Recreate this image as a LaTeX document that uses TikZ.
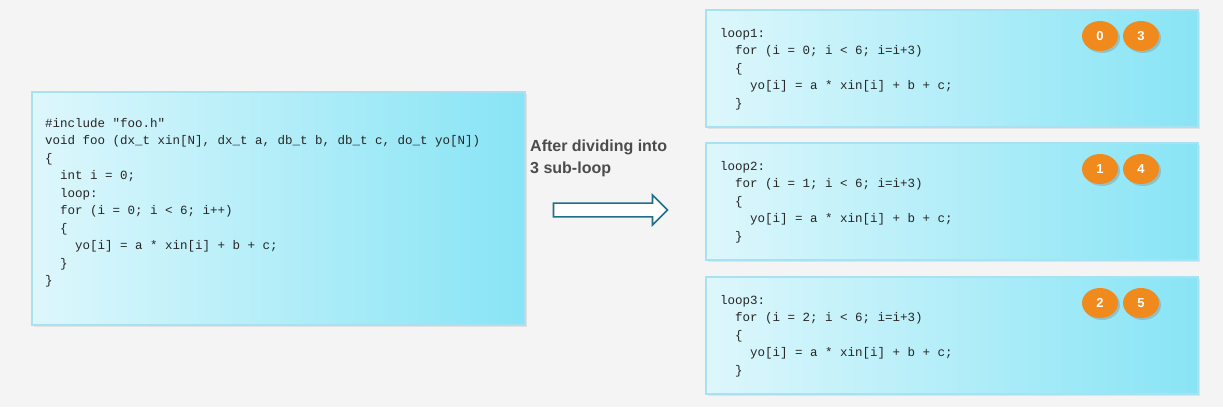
\documentclass[tikz,border=0pt]{standalone}
\usepackage{fontspec}
\setmonofont{Liberation Mono}
\setsansfont{Liberation Sans}
\usetikzlibrary{shadows,shapes.arrows,shapes.geometric}
\definecolor{bg}{HTML}{F4F4F4}
\definecolor{cl}{HTML}{DDF7FC}
\definecolor{cr}{HTML}{88E4F5}
\definecolor{bd}{HTML}{A6E2F2}
\definecolor{org}{HTML}{F08A1C}
\definecolor{arr}{HTML}{1E6E8C}
\tikzset{
 codebox/.style={draw=bd,line width=1.5pt,left color=cl,right color=cr,drop shadow={opacity=0.15}},
 code/.style={anchor=north west,align=left,font=\ttfamily\fontsize{12.5}{17.5}\selectfont,text=black!85,inner sep=0},
 badge/.style={ellipse,minimum width=36,minimum height=30,inner sep=0,fill=org,text=white,font=\sffamily\bfseries\fontsize{13}{13}\selectfont,drop shadow={opacity=0.35,shadow xshift=2pt,shadow yshift=-2pt}},
}
\begin{document}
\begin{tikzpicture}[x=1pt,y=-1pt]
\fill[bg] (0,0) rectangle (1223,407);
\useasboundingbox (0,0) rectangle (1223,407);
\draw[codebox] (32,92) rectangle (525,325);
\node[code] (c0) at (45,118) {\#include "foo.h"\\void foo (dx\_t xin[N], dx\_t a, db\_t b, db\_t c, do\_t yo[N])\\\{\\\ \ int i = 0;\\\ \ loop:\\\ \ for (i = 0; i < 6; i++)\\\ \ \{\\\ \ \ \ yo[i] = a * xin[i] + b + c;\\\ \ \}\\\}};
\foreach \n/\y/\s/\a/\b in {1/10/0/0/3, 2/143/1/1/4, 3/277/2/2/5}{
 \draw[codebox] (706,\y) rectangle (1198,\y+117);
 \node[code] (l\n) at (720,\y+18) {loop\n:\\\ \ for (i = \s; i < 6; i=i+3)\\\ \ \{\\\ \ \ \ yo[i] = a * xin[i] + b + c;\\\ \ \}};
 \node[badge] (a\n) at (1100,\y+26) {\a};
 \node[badge] (b\n) at (1141,\y+26) {\b};
}
\node[anchor=north west,align=left,inner sep=0,font=\sffamily\bfseries\fontsize{16}{22}\selectfont,text=black!70] (t) at (530,140) {After dividing into\\3 sub-loop};
\node[single arrow,draw=arr,line width=1.6pt,fill=white,minimum height=114,minimum width=30,single arrow head extend=8pt,inner sep=6pt] (ar) at (607,210) {};
\end{tikzpicture}
\end{document}
